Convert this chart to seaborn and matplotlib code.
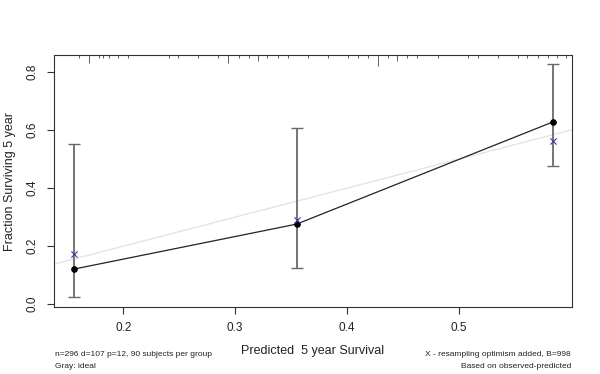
import matplotlib
matplotlib.use('Agg')
import matplotlib.pyplot as plt
import matplotlib.transforms as mtransforms
import numpy as np
import pandas as pd
import seaborn as sns

# calibration groups
predicted = [0.156, 0.355, 0.584]
observed = [0.121, 0.276, 0.628]
corrected = [0.172, 0.290, 0.562]
lower = [0.024, 0.124, 0.476]
upper = [0.552, 0.607, 0.828]

# rug of predicted values along the top, with relative tick heights
rug_x = [0.160, 0.169, 0.178, 0.182, 0.1875, 0.1955, 0.2045, 0.241, 0.249,
         0.267, 0.285, 0.294, 0.303, 0.312, 0.3205, 0.3286, 0.338, 0.347, 0.365,
         0.383, 0.401, 0.41, 0.419, 0.428, 0.437, 0.445, 0.454, 0.463, 0.481,
         0.508, 0.517, 0.535, 0.553, 0.561, 0.571, 0.58, 0.588, 0.596]
rug_n = [1, 3, 1, 1, 1, 1, 1, 1, 1,
         1, 1, 3, 1, 1, 2, 1, 1, 1, 1,
         1, 1, 1, 1, 4, 1, 2, 1, 1, 1,
         1, 1, 1, 1, 1, 1, 1, 1, 1]

df = pd.DataFrame({'pred': predicted, 'obs': observed, 'corr': corrected})

sns.set_style('white')
plt.rcParams['font.family'] = ['Liberation Sans', 'DejaVu Sans']

fig = plt.figure(figsize=(6, 3.74), dpi=100)
ax = fig.add_axes([0.09, 0.179, 0.863, 0.674])

xlim = (0.138, 0.601)
# ideal line
ax.plot(xlim, xlim, color='#e4e4e4', lw=1.0, zorder=1)

# error bars
ax.errorbar(predicted, observed,
            yerr=[np.array(observed) - np.array(lower), np.array(upper) - np.array(observed)],
            fmt='none', ecolor='#6a6a6a', elinewidth=1.3, capsize=4, capthick=1.0, zorder=2)

sns.lineplot(data=df, x='pred', y='obs', color='#222222', lw=0.9, marker='o',
             markersize=4, markeredgecolor='black', markerfacecolor='black',
             ax=ax, zorder=3)
sns.scatterplot(data=df, x='pred', y='corr', marker='x', color='#3a3aa0', s=20,
                linewidth=0.8, ax=ax, zorder=4)

# rug along top
trans = mtransforms.blended_transform_factory(ax.transData, ax.transAxes)
ax.vlines(rug_x, 1 - np.array(rug_n) * 0.011, 1, transform=trans, color='#444444', lw=0.6)

ax.set_xlim(*xlim)
ax.set_ylim(-0.01, 0.859)
ax.set_xticks([0.2, 0.3, 0.4, 0.5])
ax.set_xticklabels(['0.2', '0.3', '0.4', '0.5'])
ax.set_yticks([0.0, 0.2, 0.4, 0.6, 0.8])
ax.set_yticklabels(['0.0', '0.2', '0.4', '0.6', '0.8'], rotation=90, va='center')
ax.tick_params(axis='both', direction='out', length=5, width=0.8, color='#333333',
               labelsize=8.5, labelcolor='#222222', pad=6, bottom=True, left=True)
for s in ax.spines.values():
    s.set_color('#333333')
    s.set_linewidth(0.8)

ax.set_xlabel('Predicted  5 year Survival', fontsize=9, color='#222222', labelpad=8)
ax.set_ylabel('Fraction Surviving 5 year', fontsize=9, color='#222222', labelpad=8)

fig.text(55 / 600, 1 - 355 / 374, 'n=296 d=107 p=12, 90 subjects per group',
         fontsize=6, ha='left', va='center', color='#222222')
fig.text(55 / 600, 1 - 367 / 374, 'Gray: ideal', fontsize=6, ha='left', va='center', color='#222222')
fig.text(571 / 600, 1 - 355 / 374, 'X - resampling optimism added, B=998',
         fontsize=6, ha='right', va='center', color='#222222')
fig.text(571 / 600, 1 - 367 / 374, 'Based on observed-predicted',
         fontsize=6, ha='right', va='center', color='#222222')

fig.savefig('out.png', dpi=100)
